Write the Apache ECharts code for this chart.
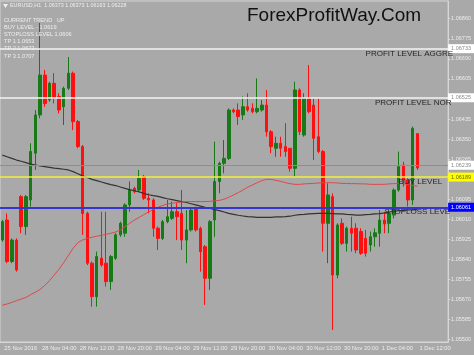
<!DOCTYPE html>
<html>
<head>
<meta charset="utf-8">
<script src="https://cdn.jsdelivr.net/npm/echarts@6/dist/echarts.min.js"></script>
<style>
html, body { margin: 0; padding: 0; background: #a9a9a9; }
#chart { width: 474px; height: 355px; }
</style>
</head>
<body>
<div id="chart"></div>
<script>
// EURUSD H1, 25 Nov 2016 20:00 .. 1 Dec 2016 12:00
var opens = [1.05922, 1.06007, 1.05831, 1.05922, 1.06106, 1.05979, 1.06092, 1.06290, 1.06452, 1.06621,
  1.06516, 1.06586, 1.06530, 1.06487, 1.06565, 1.06629, 1.06424, 1.06318, 1.06035, 1.05824,
  1.05682, 1.05845, 1.05824, 1.05746, 1.05845, 1.05944, 1.05951, 1.06071, 1.06141, 1.06134,
  1.06191, 1.06099, 1.06092, 1.05972, 1.05929, 1.06000, 1.06014, 1.06042, 1.06035, 1.05922,
  1.05965, 1.06057, 1.05972, 1.05894, 1.05760, 1.06007, 1.06170, 1.06247, 1.06268, 1.06473,
  1.06473, 1.06452, 1.06487, 1.06480, 1.06466, 1.06473, 1.06494, 1.06381, 1.06311, 1.06332,
  1.06318, 1.06311, 1.06226, 1.06558, 1.06367, 1.06523, 1.06494, 1.06360, 1.06297, 1.05993,
  1.06106, 1.05774, 1.05993, 1.05908, 1.05972, 1.05972, 1.05958, 1.05929, 1.05901, 1.05936,
  1.05951, 1.06007, 1.05993, 1.06028, 1.06134, 1.06240, 1.06177, 1.06092, 1.06373]
var closes = [1.06000, 1.05831, 1.05922, 1.05795, 1.05979, 1.06106, 1.06297, 1.06452, 1.06621, 1.06501,
  1.06586, 1.06523, 1.06473, 1.06565, 1.06629, 1.06424, 1.06318, 1.06035, 1.05824, 1.05682,
  1.05852, 1.05816, 1.05746, 1.05852, 1.05944, 1.05993, 1.06071, 1.06134, 1.06127, 1.06184,
  1.06099, 1.06092, 1.05972, 1.05929, 1.06000, 1.06021, 1.06042, 1.06021, 1.05922, 1.05965,
  1.06049, 1.05965, 1.05873, 1.05760, 1.06000, 1.06170, 1.06247, 1.06268, 1.06473, 1.06466,
  1.06445, 1.06487, 1.06473, 1.06466, 1.06480, 1.06494, 1.06381, 1.06318, 1.06332, 1.06311,
  1.06297, 1.06226, 1.06558, 1.06381, 1.06523, 1.06466, 1.06353, 1.06297, 1.05993, 1.06113,
  1.05774, 1.05986, 1.05908, 1.05972, 1.05951, 1.05880, 1.05866, 1.05866, 1.05936, 1.05953,
  1.06007, 1.05990, 1.06035, 1.06134, 1.06233, 1.06177, 1.06092, 1.06395, 1.06228]
var lows = [1.05915, 1.05824, 1.05824, 1.05788, 1.05951, 1.05944, 1.06064, 1.06219, 1.06438, 1.06487,
  1.06508, 1.06501, 1.06459, 1.06410, 1.06558, 1.06388, 1.06311, 1.05944, 1.05816, 1.05640,
  1.05640, 1.05809, 1.05725, 1.05711, 1.05838, 1.05936, 1.05936, 1.06042, 1.06120, 1.06127,
  1.06092, 1.06035, 1.05936, 1.05880, 1.05922, 1.05993, 1.06007, 1.05922, 1.05880, 1.05824,
  1.05958, 1.05958, 1.05788, 1.05647, 1.05711, 1.05936, 1.06120, 1.06205, 1.06261, 1.06459,
  1.06410, 1.06431, 1.06466, 1.06459, 1.06459, 1.06466, 1.06360, 1.06290, 1.06275, 1.06275,
  1.06275, 1.06212, 1.06191, 1.06367, 1.06360, 1.06459, 1.06261, 1.06290, 1.05873, 1.05824,
  1.05541, 1.05760, 1.05901, 1.05873, 1.05873, 1.05866, 1.05859, 1.05852, 1.05873, 1.05894,
  1.05894, 1.05951, 1.05951, 1.06014, 1.06127, 1.06148, 1.06064, 1.06071, 1.06219]
var highs = [1.06007, 1.06035, 1.05929, 1.05929, 1.06113, 1.06113, 1.06332, 1.06473, 1.06842, 1.06643,
  1.06593, 1.06629, 1.06544, 1.06572, 1.06698, 1.06636, 1.06431, 1.06325, 1.06042, 1.05831,
  1.05873, 1.06042, 1.06042, 1.05859, 1.05951, 1.06000, 1.06078, 1.06170, 1.06148, 1.06219,
  1.06198, 1.06120, 1.06099, 1.05979, 1.06007, 1.06092, 1.06085, 1.06078, 1.06134, 1.06049,
  1.06057, 1.06064, 1.05979, 1.05901, 1.06007, 1.06339, 1.06254, 1.06346, 1.06480, 1.06480,
  1.06501, 1.06530, 1.06544, 1.06501, 1.06607, 1.06516, 1.06558, 1.06388, 1.06360, 1.06360,
  1.06417, 1.06311, 1.06593, 1.06565, 1.06544, 1.06664, 1.06523, 1.06523, 1.06304, 1.06162,
  1.06120, 1.05993, 1.06014, 1.05979, 1.06021, 1.05993, 1.05972, 1.05965, 1.05958, 1.05972,
  1.06049, 1.06042, 1.06049, 1.06141, 1.06297, 1.06254, 1.06184, 1.06403, 1.06373]

// slow moving average (dark) and fast one (red)
var maSlow = [1.06282, 1.06275, 1.06268, 1.06261, 1.06256, 1.06250, 1.06244, 1.06240, 1.06236, 1.06233,
  1.06230, 1.06227, 1.06225, 1.06222, 1.06219, 1.06212, 1.06203, 1.06194, 1.06187, 1.06179,
  1.06174, 1.06168, 1.06162, 1.06157, 1.06153, 1.06147, 1.06141, 1.06136, 1.06131, 1.06126,
  1.06120, 1.06114, 1.06110, 1.06107, 1.06102, 1.06097, 1.06093, 1.06089, 1.06085, 1.06081,
  1.06076, 1.06071, 1.06066, 1.06061, 1.06057, 1.06051, 1.06047, 1.06041, 1.06035, 1.06031,
  1.06027, 1.06024, 1.06021, 1.06020, 1.06018, 1.06018, 1.06018, 1.06018, 1.06020, 1.06020,
  1.06021, 1.06023, 1.06027, 1.06030, 1.06031, 1.06033, 1.06034, 1.06035, 1.06035, 1.06035,
  1.06034, 1.06033, 1.06033, 1.06031, 1.06030, 1.06028, 1.06028, 1.06030, 1.06031, 1.06033,
  1.06034, 1.06037, 1.06041, 1.06044, 1.06047, 1.06048, 1.06050, 1.06050, 1.06051]
var maFast = [1.05646, 1.05651, 1.05658, 1.05665, 1.05672, 1.05679, 1.05691, 1.05701, 1.05713, 1.05730,
  1.05750, 1.05774, 1.05798, 1.05826, 1.05857, 1.05887, 1.05911, 1.05922, 1.05929, 1.05934,
  1.05938, 1.05942, 1.05946, 1.05951, 1.05956, 1.05965, 1.05979, 1.05993, 1.06007, 1.06018,
  1.06030, 1.06041, 1.06052, 1.06061, 1.06069, 1.06075, 1.06078, 1.06081, 1.06083, 1.06085,
  1.06085, 1.06085, 1.06085, 1.06085, 1.06086, 1.06088, 1.06090, 1.06095, 1.06103, 1.06113,
  1.06123, 1.06134, 1.06146, 1.06155, 1.06165, 1.06174, 1.06179, 1.06179, 1.06175, 1.06171,
  1.06165, 1.06161, 1.06158, 1.06158, 1.06160, 1.06161, 1.06162, 1.06164, 1.06165, 1.06165,
  1.06165, 1.06164, 1.06162, 1.06162, 1.06161, 1.06161, 1.06160, 1.06160, 1.06158, 1.06158,
  1.06158, 1.06158, 1.06160, 1.06161, 1.06162, 1.06161, 1.06157, 1.06153, 1.06150]

var timeLabels = ['25 Nov 2016', '28 Nov 04:00', '28 Nov 12:00', '28 Nov 20:00', '29 Nov 04:00',
  '29 Nov 12:00', '29 Nov 20:00', '30 Nov 04:00', '30 Nov 12:00', '30 Nov 20:00',
  '1 Dec 04:00', '1 Dec 12:00']
var priceTicks = [1.05500, 1.05585, 1.05670, 1.05755, 1.05840, 1.05925, 1.06010, 1.06095, 1.06180,
  1.06265, 1.06350, 1.06435, 1.06520, 1.06605, 1.06690, 1.06775, 1.06860]

// horizontal levels, and the part of each level's caption that shows inside the plot
var levelValues = [1.06733, 1.06525, 1.06239, 1.06189, 1.06061]
var levelNames = ['PROFIT LEVEL AGGRE', 'PROFIT LEVEL NOR', '', 'BUY LEVEL', 'STOPLOSS LEVE']
var levelTextBar = [77, 79, 0, 84, 81]
var infoHead = 'EURUSD,H1  1.06373 1.06373 1.06163 1.06228'
var infoLines = ['CURRENT TREND   UP', 'BUY LEVEL - 1.0619', 'STOPLOSS LEVEL 1.0606',
  'TP 1 1.0653', 'TP 2 1.0673', 'TP 3 1.0707']

var barSlots = 95
var cats = []
for (var i = 0; i < barSlots; i++) cats.push(String(i))

var candles = opens.map(function(o, i) {
  return [o, closes[i], lows[i], highs[i]]
})

var font = '"Liberation Sans", Arial, sans-serif'
var lineCol = ['#f4f4f4', '#f4f4f4', '#8e8e8e', '#f0f03c', '#3535d2']
var lineW = [1.5, 1.5, 1, 1.5, 2]
var boxCol = ['#ffffff', '#ffffff', '#ffffff', '#ffff00', '#0000ff']
var boxText = ['#8a8a8a', '#8a8a8a', '#8a8a8a', '#6a6a00', '#ffffff']

var markLines = levelValues.map(function(v, i) {
  return {
    yAxis: v,
    lineStyle: { color: lineCol[i], width: lineW[i], type: 'solid' },
    label: {
      show: true,
      position: 'end',
      distance: 0,
      formatter: v.toFixed(5),
      backgroundColor: boxCol[i],
      color: boxText[i],
      fontSize: 5.5,
      fontFamily: font,
      padding: [2, 3, 1, 3]
    }
  }
})

var markTexts = []
levelValues.forEach(function(v, i) {
  if (!levelNames[i]) return
  markTexts.push({
    coord: [levelTextBar[i], v],
    symbolSize: 0,
    label: {
      show: true,
      position: 'right',
      distance: 0,
      offset: [0, 5],
      formatter: levelNames[i],
      color: '#262626',
      fontSize: 8,
      fontFamily: font
    }
  })
})

var graphics = [
  {
    type: 'text', left: 247, top: 6, z: 10,
    style: { text: 'ForexProfitWay.Com', font: '19px ' + font, fill: '#111111' }
  },
  {
    type: 'polygon', z: 10,
    shape: { points: [[3, 4], [8, 4], [5.5, 8]] },
    style: { fill: '#eeeeee' }
  },
  {
    type: 'text', left: 10, top: 3.5, z: 10,
    style: { text: infoHead, font: '5.4px ' + font, fill: '#eeeeee' }
  }
]
infoLines.forEach(function(t, i) {
  graphics.push({
    type: 'text', left: 4, top: 17.5 + i * 7.1, z: 10,
    style: { text: t, font: '5.6px ' + font, fill: '#eeeeee' }
  })
})

var chart = echarts.init(document.getElementById('chart'))
chart.setOption({
  animation: false,
  backgroundColor: '#a9a9a9',
  grid: {
    left: 0, right: 25, top: 1, bottom: 13,
    show: true, borderColor: '#d6d6d6', borderWidth: 1
  },
  xAxis: {
    type: 'category',
    data: cats,
    boundaryGap: true,
    axisLine: { lineStyle: { color: '#d6d6d6' } },
    axisTick: {
      alignWithLabel: true,
      length: 3,
      interval: function(i) { return i % 8 === 0 && i <= 88 },
      lineStyle: { color: '#dcdcdc' }
    },
    axisLabel: {
      interval: function(i) { return i % 8 === 0 && i <= 88 },
      formatter: function(v, i) { return timeLabels[i / 8] },
      align: 'left',
      margin: 3,
      padding: [0, 0, 0, 2],
      color: '#ececec',
      fontSize: 5.8,
      fontFamily: font
    },
    splitLine: { show: false }
  },
  yAxis: {
    type: 'value',
    position: 'right',
    min: 1.05490,
    max: 1.06935,
    axisLine: { show: true, lineStyle: { color: '#d6d6d6' } },
    axisTick: { show: true, length: 2, customValues: priceTicks, lineStyle: { color: '#dcdcdc' } },
    axisLabel: {
      customValues: priceTicks,
      formatter: function(v) { return v.toFixed(5) },
      margin: 3,
      color: '#ececec',
      fontSize: 5.5,
      fontFamily: font
    },
    splitLine: { show: false }
  },
  graphic: graphics,
  series: [
    {
      name: 'levels',
      type: 'line',
      data: [],
      z: 1,
      markLine: {
        silent: true,
        symbol: 'none',
        precision: 5,
        data: markLines
      },
      markPoint: {
        silent: true,
        symbol: 'circle',
        data: markTexts
      }
    },
    {
      name: 'EURUSD',
      type: 'candlestick',
      data: candles,
      barWidth: 3,
      z: 3,
      itemStyle: {
        color: '#177a17',
        color0: '#ff1010',
        borderColor: '#177a17',
        borderColor0: '#ff1010',
        borderWidth: 1
      }
    },
    {
      name: 'MA slow',
      type: 'line',
      data: maSlow,
      symbol: 'none',
      z: 4,
      lineStyle: { color: '#333333', width: 1.2 }
    },
    {
      name: 'MA fast',
      type: 'line',
      data: maFast,
      symbol: 'none',
      z: 4,
      lineStyle: { color: '#e04848', width: 1 }
    }
  ]
})
</script>
</body>
</html>
